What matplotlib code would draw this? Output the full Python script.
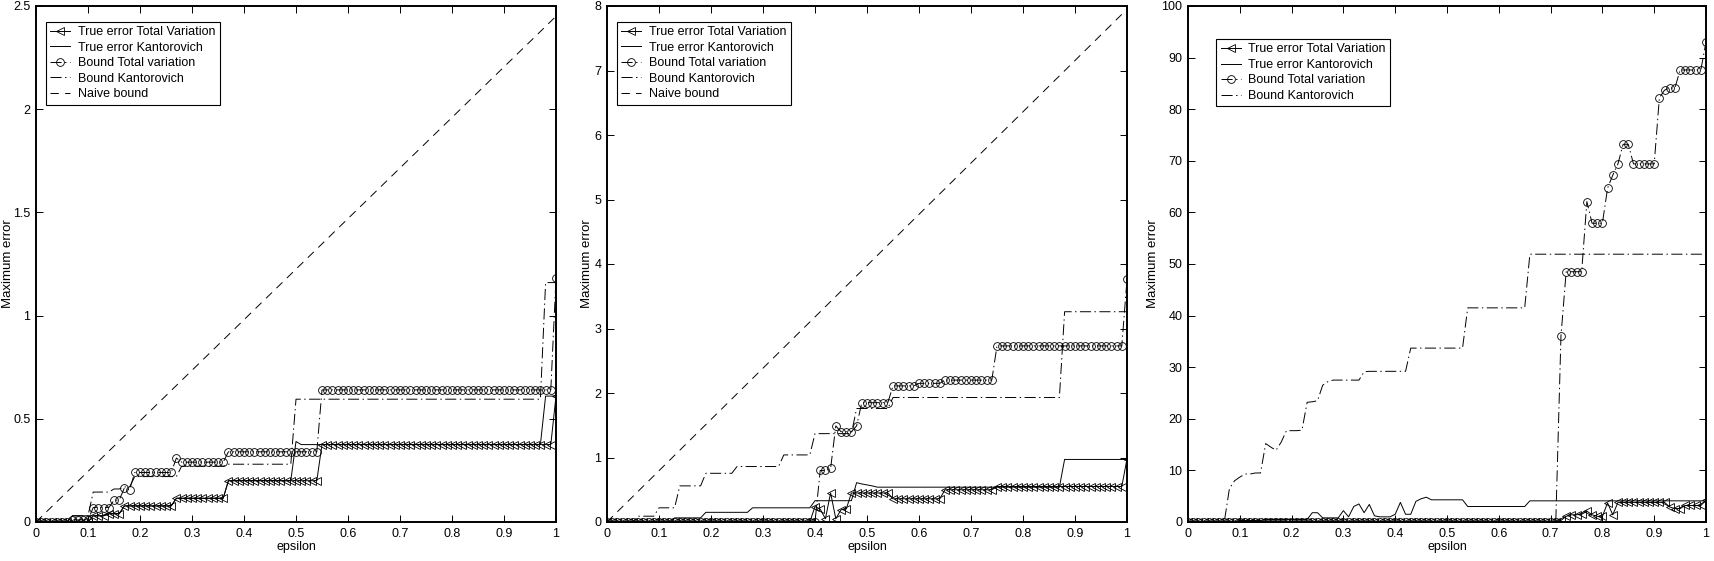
import numpy as np
import matplotlib
matplotlib.use("Agg")
import matplotlib.pyplot as plt

plt.rcParams['font.family'] = ['Liberation Sans Narrow', 'Liberation Sans', 'DejaVu Sans']
plt.rcParams['lines.scale_dashes'] = False

# sampling grid of epsilon
eps = np.linspace(0, 1, 101)

labels5 = ["True error Total Variation", "True error Kantorovich",
           "Bound Total variation", "Bound Kantorovich", "Naive bound"]

# ---------------- Panel 1 ----------------
tv_true1 = [0, 0, 0, 0, 0, 0, 0, 0, 0, 0,
            0, 0.03, 0.03, 0.03, 0.04, 0.04, 0.04, 0.078, 0.078, 0.078,
            0.078, 0.078, 0.078, 0.078, 0.078, 0.078, 0.078, 0.115, 0.115, 0.115,
            0.115, 0.115, 0.115, 0.115, 0.115, 0.115, 0.115, 0.20, 0.20, 0.20,
            0.20, 0.20, 0.20, 0.20, 0.20, 0.20, 0.20, 0.20, 0.20, 0.20,
            0.20, 0.20, 0.20, 0.20, 0.20, 0.375, 0.375, 0.375, 0.375, 0.375,
            0.375, 0.375, 0.375, 0.375, 0.375, 0.375, 0.375, 0.375, 0.375, 0.375,
            0.375, 0.375, 0.375, 0.375, 0.375, 0.375, 0.375, 0.375, 0.375, 0.375,
            0.375, 0.375, 0.375, 0.375, 0.375, 0.375, 0.375, 0.375, 0.375, 0.375,
            0.375, 0.375, 0.375, 0.375, 0.375, 0.375, 0.375, 0.375, 0.375, 0.375,
            0.61]
kant_true1 = [0, 0, 0, 0, 0, 0, 0, 0.03, 0.03, 0.03,
              0.03, 0.03, 0.03, 0.03, 0.04, 0.04, 0.04, 0.078, 0.078, 0.078,
              0.078, 0.078, 0.078, 0.078, 0.078, 0.078, 0.078, 0.115, 0.115, 0.115,
              0.115, 0.115, 0.115, 0.115, 0.115, 0.115, 0.115, 0.20, 0.20, 0.20,
              0.20, 0.20, 0.20, 0.20, 0.20, 0.20, 0.20, 0.20, 0.20, 0.20,
              0.39, 0.375, 0.375, 0.375, 0.375, 0.375, 0.375, 0.375, 0.375, 0.375,
              0.375, 0.375, 0.375, 0.375, 0.375, 0.375, 0.375, 0.375, 0.375, 0.375,
              0.375, 0.375, 0.375, 0.375, 0.375, 0.375, 0.375, 0.375, 0.375, 0.375,
              0.375, 0.375, 0.375, 0.375, 0.375, 0.375, 0.375, 0.375, 0.375, 0.375,
              0.375, 0.375, 0.375, 0.375, 0.375, 0.375, 0.375, 0.375, 0.61, 0.61,
              0.61]
bound_tv1 = [0, 0, 0, 0, 0, 0, 0, 0.01, 0.01, 0.01,
             0.01, 0.07, 0.07, 0.07, 0.07, 0.105, 0.107, 0.165, 0.157, 0.24,
             0.24, 0.24, 0.24, 0.24, 0.24, 0.24, 0.24, 0.31, 0.29, 0.29,
             0.29, 0.29, 0.29, 0.29, 0.29, 0.29, 0.29, 0.34, 0.34, 0.34,
             0.34, 0.34, 0.34, 0.34, 0.34, 0.34, 0.34, 0.34, 0.34, 0.34,
             0.34, 0.34, 0.34, 0.34, 0.34, 0.64, 0.64, 0.64, 0.64, 0.64,
             0.64, 0.64, 0.64, 0.64, 0.64, 0.64, 0.64, 0.64, 0.64, 0.64,
             0.64, 0.64, 0.64, 0.64, 0.64, 0.64, 0.64, 0.64, 0.64, 0.64,
             0.64, 0.64, 0.64, 0.64, 0.64, 0.64, 0.64, 0.64, 0.64, 0.64,
             0.64, 0.64, 0.64, 0.64, 0.64, 0.64, 0.64, 0.64, 0.64, 0.64,
             1.18]
bound_kant1 = [0, 0, 0, 0, 0, 0, 0, 0.03, 0.03, 0.03,
               0.03, 0.145, 0.145, 0.145, 0.145, 0.16, 0.16, 0.17, 0.17, 0.22,
               0.22, 0.22, 0.22, 0.22, 0.22, 0.22, 0.22, 0.22, 0.27, 0.27,
               0.27, 0.27, 0.27, 0.27, 0.27, 0.27, 0.27, 0.28, 0.28, 0.28,
               0.28, 0.28, 0.28, 0.28, 0.28, 0.28, 0.28, 0.28, 0.28, 0.28,
               0.595, 0.595, 0.595, 0.595, 0.595, 0.595, 0.595, 0.595, 0.595, 0.595,
               0.595, 0.595, 0.595, 0.595, 0.595, 0.595, 0.595, 0.595, 0.595, 0.595,
               0.595, 0.595, 0.595, 0.595, 0.595, 0.595, 0.595, 0.595, 0.595, 0.595,
               0.595, 0.595, 0.595, 0.595, 0.595, 0.595, 0.595, 0.595, 0.595, 0.595,
               0.595, 0.595, 0.595, 0.595, 0.595, 0.595, 0.595, 0.595, 1.16, 1.16,
               1.16]
naive_x = [0, 1]
naive1 = [0, 2.45]

# ---------------- Panel 2 ----------------
tv_true2 = [0, 0, 0, 0, 0, 0, 0, 0, 0, 0,
            0, 0, 0, 0, 0, 0, 0, 0, 0, 0,
            0, 0, 0, 0, 0, 0, 0, 0, 0, 0,
            0, 0, 0, 0, 0, 0, 0, 0, 0, 0,
            0.24, 0.20, 0.05, 0.45, 0.05, 0.19, 0.20, 0.45, 0.45, 0.45,
            0.45, 0.45, 0.45, 0.45, 0.45, 0.36, 0.36, 0.36, 0.36, 0.36,
            0.36, 0.36, 0.36, 0.36, 0.36, 0.50, 0.50, 0.50, 0.50, 0.50,
            0.50, 0.50, 0.50, 0.50, 0.50, 0.55, 0.55, 0.55, 0.55, 0.55,
            0.55, 0.55, 0.55, 0.55, 0.55, 0.55, 0.55, 0.55, 0.55, 0.55,
            0.55, 0.55, 0.55, 0.55, 0.55, 0.55, 0.55, 0.55, 0.55, 0.55,
            0.98]
kant_true2 = [0, 0, 0, 0, 0, 0, 0, 0, 0, 0,
              0, 0, 0, 0.064, 0.064, 0.064, 0.064, 0.064, 0.064, 0.15,
              0.15, 0.15, 0.15, 0.15, 0.15, 0.15, 0.15, 0.15, 0.22, 0.22,
              0.22, 0.22, 0.22, 0.22, 0.22, 0.22, 0.22, 0.22, 0.22, 0.22,
              0.33, 0.33, 0.33, 0.33, 0.33, 0.33, 0.33, 0.33, 0.61, 0.59,
              0.575, 0.56, 0.54, 0.54, 0.54, 0.54, 0.54, 0.54, 0.54, 0.54,
              0.54, 0.54, 0.54, 0.54, 0.54, 0.54, 0.54, 0.54, 0.54, 0.54,
              0.54, 0.54, 0.54, 0.54, 0.54, 0.54, 0.54, 0.54, 0.54, 0.54,
              0.54, 0.54, 0.54, 0.54, 0.54, 0.54, 0.54, 0.54, 0.97, 0.97,
              0.97, 0.97, 0.97, 0.97, 0.97, 0.97, 0.97, 0.97, 0.97, 0.97,
              0.97]
bound_tv2 = [0, 0, 0, 0, 0, 0, 0, 0, 0, 0,
             0, 0, 0, 0, 0, 0, 0, 0, 0, 0,
             0, 0, 0, 0, 0, 0, 0, 0, 0, 0,
             0, 0, 0, 0, 0, 0, 0, 0, 0, 0,
             0, 0.80, 0.80, 0.83, 1.49, 1.40, 1.40, 1.40, 1.49, 1.85,
             1.85, 1.85, 1.85, 1.85, 1.85, 2.11, 2.11, 2.11, 2.11, 2.11,
             2.15, 2.15, 2.15, 2.15, 2.15, 2.20, 2.20, 2.20, 2.20, 2.20,
             2.20, 2.20, 2.20, 2.20, 2.20, 2.73, 2.73, 2.73, 2.73, 2.73,
             2.73, 2.73, 2.73, 2.73, 2.73, 2.73, 2.73, 2.73, 2.73, 2.73,
             2.73, 2.73, 2.73, 2.73, 2.73, 2.73, 2.73, 2.73, 2.73, 2.73,
             3.76]
bound_kant2 = [0, 0, 0, 0, 0, 0, 0.09, 0.09, 0.09, 0.09,
               0.22, 0.22, 0.22, 0.22, 0.56, 0.56, 0.56, 0.56, 0.56, 0.755,
               0.755, 0.755, 0.755, 0.755, 0.755, 0.86, 0.86, 0.86, 0.86, 0.86,
               0.86, 0.86, 0.86, 0.86, 1.04, 1.04, 1.04, 1.04, 1.04, 1.04,
               1.37, 1.37, 1.37, 1.37, 1.37, 1.37, 1.37, 1.37, 1.76, 1.76,
               1.76, 1.76, 1.76, 1.76, 1.76, 1.93, 1.93, 1.93, 1.93, 1.93,
               1.93, 1.93, 1.93, 1.93, 1.93, 1.93, 1.93, 1.93, 1.93, 1.93,
               1.93, 1.93, 1.93, 1.93, 1.93, 1.93, 1.93, 1.93, 1.93, 1.93,
               1.93, 1.93, 1.93, 1.93, 1.93, 1.93, 1.93, 1.93, 3.26, 3.26,
               3.26, 3.26, 3.26, 3.26, 3.26, 3.26, 3.26, 3.26, 3.26, 3.26,
               3.26]
naive2 = [0, 7.95]

# ---------------- Panel 3 ----------------
tv_true3 = [0, 0, 0, 0, 0, 0, 0, 0, 0, 0,
            0, 0, 0, 0, 0, 0, 0, 0, 0, 0,
            0, 0, 0, 0, 0, 0, 0, 0, 0, 0,
            0, 0, 0, 0, 0, 0, 0, 0, 0, 0,
            0, 0, 0, 0, 0, 0, 0, 0, 0, 0,
            0, 0, 0, 0, 0, 0, 0, 0, 0, 0,
            0, 0, 0, 0, 0, 0, 0, 0, 0, 0,
            0, 0, 0.3, 1.1, 1.4, 1.4, 1.5, 2.1, 1.4, 1.1,
            1.1, 3.7, 1.4, 3.8, 3.8, 3.8, 3.8, 3.8, 3.8, 3.8,
            3.8, 3.8, 3.8, 2.9, 2.6, 2.6, 3.2, 3.2, 3.2, 3.2,
            4.2]
kant_true3 = [0, 0, 0, 0, 0, 0, 0, 0, 0, 0,
              0.3, 0.3, 0.3, 0.3, 0.3, 0.5, 0.5, 0.5, 0.5, 0.5,
              0.5, 0.5, 0.5, 0.5, 1.8, 1.8, 0.8, 0.8, 0.8, 0.8,
              2.2, 1.0, 3.0, 3.5, 1.8, 3.4, 1.2, 1.0, 1.0, 1.0,
              1.5, 3.8, 1.5, 1.5, 4.0, 4.5, 4.8, 4.3, 4.3, 4.3,
              4.3, 4.3, 4.3, 4.3, 3.0, 3.0, 3.0, 3.0, 3.0, 3.0,
              3.0, 3.0, 3.0, 3.0, 3.0, 3.0, 4.1, 4.1, 4.1, 4.1,
              4.1, 4.1, 4.1, 4.1, 4.1, 4.1, 4.1, 4.1, 4.1, 4.1,
              4.1, 4.1, 4.1, 4.1, 4.1, 4.1, 4.1, 4.1, 4.1, 4.1,
              4.1, 4.1, 4.1, 4.1, 4.1, 4.1, 4.1, 4.1, 4.1, 4.1,
              4.1]
bound_tv3 = [0, 0, 0, 0, 0, 0, 0, 0, 0, 0,
             0, 0, 0, 0, 0, 0, 0, 0, 0, 0,
             0, 0, 0, 0, 0, 0, 0, 0, 0, 0,
             0, 0, 0, 0, 0, 0, 0, 0, 0, 0,
             0, 0, 0, 0, 0, 0, 0, 0, 0, 0,
             0, 0, 0, 0, 0, 0, 0, 0, 0, 0,
             0, 0, 0, 0, 0, 0, 0, 0, 0, 0,
             0, 0, 36.0, 48.5, 48.5, 48.5, 48.5, 62.1, 57.9, 57.9,
             57.9, 64.7, 67.2, 69.4, 73.2, 73.2, 69.4, 69.4, 69.4, 69.4,
             69.4, 82.2, 83.7, 84.1, 84.1, 87.6, 87.6, 87.6, 87.6, 87.6,
             93.0]
bound_kant3 = [0, 0, 0, 0, 0, 0, 0, 0, 6.5, 8.0,
               8.7, 9.3, 9.3, 9.5, 9.5, 15.2, 14.5, 13.9, 15.5, 17.7,
               17.7, 17.7, 17.8, 23.2, 23.3, 23.5, 26.5, 27.2, 27.5, 27.5,
               27.5, 27.5, 27.5, 27.5, 29.1, 29.2, 29.2, 29.2, 29.2, 29.2,
               29.2, 29.2, 29.2, 33.7, 33.7, 33.7, 33.7, 33.7, 33.7, 33.7,
               33.7, 33.7, 33.7, 33.7, 41.5, 41.5, 41.5, 41.5, 41.5, 41.5,
               41.5, 41.5, 41.5, 41.5, 41.5, 41.5, 51.9, 51.9, 51.9, 51.9,
               51.9, 51.9, 51.9, 51.9, 51.9, 51.9, 51.9, 51.9, 51.9, 51.9,
               51.9, 51.9, 51.9, 51.9, 51.9, 51.9, 51.9, 51.9, 51.9, 51.9,
               51.9, 51.9, 51.9, 51.9, 51.9, 51.9, 51.9, 51.9, 51.9, 51.9,
               51.9]

ylims = [2.5, 8, 100]
yticks = [[0, 0.5, 1, 1.5, 2, 2.5],
          [0, 1, 2, 3, 4, 5, 6, 7, 8],
          [0, 10, 20, 30, 40, 50, 60, 70, 80, 90, 100]]
xticks = [0, 0.1, 0.2, 0.3, 0.4, 0.5, 0.6, 0.7, 0.8, 0.9, 1]
xticklabels = ["0", "0.1", "0.2", "0.3", "0.4", "0.5", "0.6", "0.7", "0.8", "0.9", "1"]

W, H = 1714, 561
fig = plt.figure(figsize=(W / 100, H / 100), dpi=100)
axes_px = [(36, 520), (607, 520), (1188, 518)]
bottom_px, top_px = 522, 6
axes = [fig.add_axes([l / W, 1 - bottom_px / H, w / W, (bottom_px - top_px) / H])
        for l, w in axes_px]

DASHDOT = (0, (8, 2.5, 1.0, 2.5))
DASHED = (0, (6, 4.5))
LW = 0.7
MS = 5.6

panels = [
    (tv_true1, kant_true1, bound_tv1, bound_kant1, naive1),
    (tv_true2, kant_true2, bound_tv2, bound_kant2, naive2),
    (tv_true3, kant_true3, bound_tv3, bound_kant3, None),
]
legend_anchor = [(0.019, 0.969), (0.019, 0.969), (0.055, 0.936)]
ylabel_x = [-0.042, -0.026, -0.056]

for i, (ax, (tvt, kt, btv, bk, nv)) in enumerate(zip(axes, panels)):
    ax.plot(eps, tvt, color='black', lw=LW, marker='<', ms=MS, mfc='none',
            mec='black', mew=0.6, label=labels5[0])
    ax.plot(eps, kt, color='black', lw=LW, label=labels5[1])
    ax.plot(eps, btv, color='black', lw=LW, ls=DASHDOT, marker='o', ms=MS,
            mfc='none', mec='black', mew=0.6, label=labels5[2])
    ax.plot(eps, bk, color='black', lw=LW, ls=DASHDOT, label=labels5[3])
    if nv is not None:
        ax.plot(naive_x, nv, color='black', lw=LW, ls=DASHED, label=labels5[4])

    ax.set_xlim(0, 1)
    ax.set_ylim(0, ylims[i])
    ax.set_xticks(xticks)
    ax.set_xticklabels(xticklabels)
    ax.set_yticks(yticks[i])
    ax.set_yticklabels([("%g" % v) for v in yticks[i]])
    ax.tick_params(direction='in', length=5, width=0.7, top=True, right=True,
                   labelsize=9, pad=4, colors='black')
    for s in ax.spines.values():
        s.set_linewidth(1.4)
        s.set_color('black')
    ax.set_xlabel("epsilon", fontsize=9, labelpad=1)
    ax.set_ylabel("Maximum error", fontsize=9.5,
                  family=['Liberation Sans', 'DejaVu Sans'])
    ax.yaxis.set_label_coords(ylabel_x[i], 0.5)
    leg = ax.legend(loc='upper left', bbox_to_anchor=legend_anchor[i],
                    borderaxespad=0, fontsize=9, frameon=True, fancybox=False,
                    framealpha=1, edgecolor='black', handlelength=1.6,
                    handletextpad=0.6, labelspacing=0.28, borderpad=0.35)
    leg.get_frame().set_linewidth(0.8)

fig.savefig("out.png", dpi=100)
